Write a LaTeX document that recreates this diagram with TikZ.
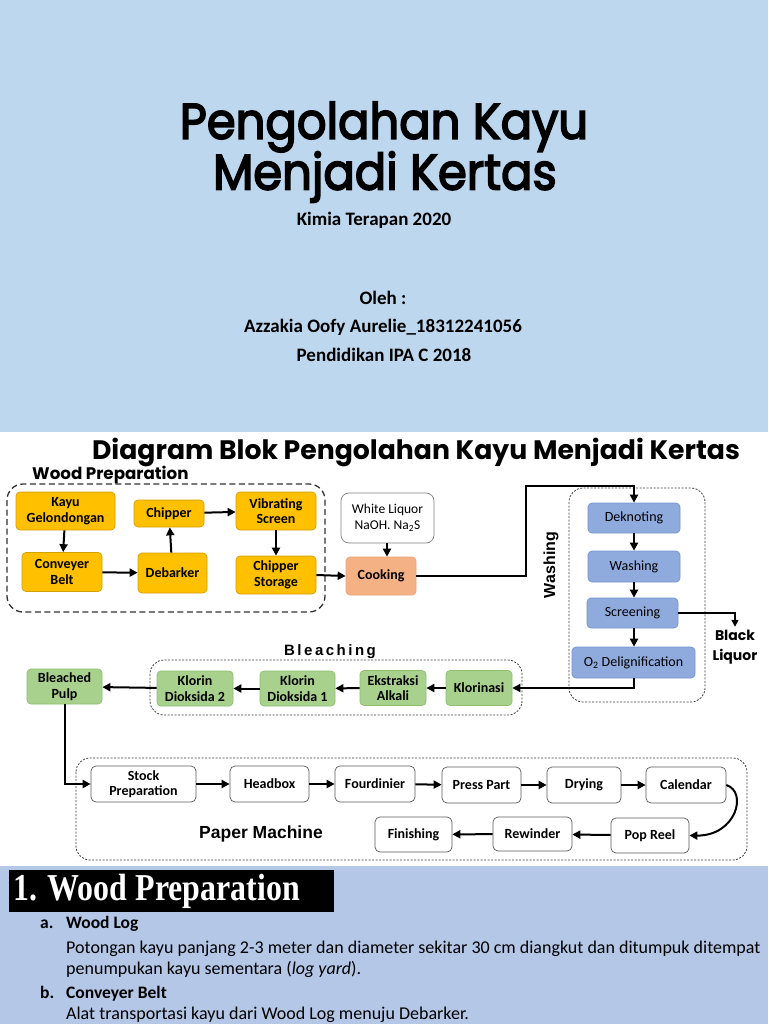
\documentclass[tikz,border=0pt]{standalone}
\usepackage{fontspec}
\setmainfont{Carlito}
\newfontfamily\geo{Poppins}
\newfontfamily\geom{Poppins}[FakeBold=3.5]
\newfontfamily\arl{Liberation Sans}
\newfontfamily\tms{Liberation Serif}
\usetikzlibrary{arrows.meta}
\definecolor{topbg}{RGB}{189,215,238}
\definecolor{botbg}{RGB}{180,199,231}
\definecolor{yfill}{RGB}{255,192,0}
\definecolor{yedge}{RGB}{214,160,0}
\definecolor{sfill}{RGB}{244,177,131}
\definecolor{sedge}{RGB}{240,160,120}
\definecolor{bfill}{RGB}{143,170,220}
\definecolor{bedge}{RGB}{120,148,205}
\definecolor{gfill}{RGB}{169,209,142}
\definecolor{gedge}{RGB}{140,190,110}
\definecolor{pedge}{RGB}{90,90,90}
\tikzset{
  boxbase/.style={rounded corners=4pt, align=center, inner sep=0pt, line width=0.7pt,
    font=\fontsize{14}{15.5}\selectfont\bfseries},
  ybox/.style={boxbase, fill=yfill, draw=yedge},
  sbox/.style={boxbase, fill=sfill, draw=sedge},
  wbox/.style={boxbase, fill=white, draw=gray, rounded corners=8pt, font=\fontsize{13.5}{15.5}\selectfont},
  bbox/.style={boxbase, fill=bfill, draw=bedge, font=\fontsize{14}{15}\selectfont},
  gbox/.style={boxbase, fill=gfill, draw=gedge, font=\fontsize{14}{15.5}\selectfont\bfseries},
  pbox/.style={boxbase, fill=white, draw=pedge, rounded corners=5pt, font=\fontsize{14}{15.5}\selectfont\bfseries},
  arr/.style={-{Triangle[length=8pt,width=8pt]}, line width=2pt, black},
  thinarr/.style={-{Triangle[length=7pt,width=7pt]}, line width=1.5pt, black},
  groupA/.style={dash pattern=on 6pt off 3.5pt, line width=1.3pt, draw=black!80, rounded corners=16pt},
  groupB/.style={dash pattern=on 2pt off 1.5pt, line width=0.8pt, draw=black!75, rounded corners=14pt},
  lbl/.style={inner sep=0pt, anchor=center},
}
\begin{document}
\begin{tikzpicture}[x=1pt,y=-1pt]
\useasboundingbox (0,0) rectangle (768,1024);
\clip (0,0) rectangle (768,1024);
% backgrounds
\fill[topbg] (0,0) rectangle (768,432);
\fill[white] (0,432) rectangle (768,866);
\fill[botbg] (0,866) rectangle (768,1024);

% title slide
\node[lbl, font=\geom\fontsize{50}{50}\selectfont] (t1) at (384,127) {\scalebox{0.93}[1]{Pengolahan Kayu}};
\node[lbl, font=\geom\fontsize{50}{50}\selectfont] (t2) at (385,177) {\scalebox{0.93}[1]{Menjadi Kertas}};
\node[lbl, font=\bfseries\fontsize{19}{19}\selectfont] (t3) at (374,220) {Kimia Terapan 2020};
\node[lbl, font=\bfseries\fontsize{19}{19}\selectfont] (t4) at (383,298) {Oleh :};
\node[lbl, font=\bfseries\fontsize{19}{19}\selectfont] (t5) at (383,327) {Azzakia Oofy Aurelie\_18312241056};
\node[lbl, font=\bfseries\fontsize{19}{19}\selectfont] (t6) at (384,355) {Pendidikan IPA C 2018};

% diagram title
\node[lbl, font=\geo\bfseries\fontsize{26.7}{26.7}\selectfont] (dt) at (416,452) {Diagram Blok Pengolahan Kayu Menjadi Kertas};

% Wood preparation group
\node[lbl, anchor=west, font=\geo\bfseries\fontsize{16.7}{16.7}\selectfont] (wpl) at (32,475) {Wood Preparation};
\draw[groupA] (7,484) rectangle (325,612);
\node[ybox, minimum width=99pt, minimum height=38pt] (kayu) at (65.5,511) {Kayu\\Gelondongan};
\node[ybox, minimum width=80pt, minimum height=39pt] (conv) at (62,572) {Conveyer\\Belt};
\node[ybox, minimum width=70pt, minimum height=27pt] (chip) at (169,513.5) {Chipper};
\node[ybox, minimum width=69pt, minimum height=40pt] (deb) at (172.5,573) {Debarker};
\node[ybox, minimum width=80pt, minimum height=38pt] (vib) at (276,511) {Vibrating\\Screen};
\node[ybox, minimum width=80pt, minimum height=38pt] (cst) at (276,575) {Chipper\\Storage};
\draw[arr] (kayu) -- (conv);
\draw[arr] (conv) -- (deb);
\draw[arr] (deb) -- (chip);
\draw[arr] (chip) -- (vib);
\draw[arr] (vib) -- (cst);

% cooking
\node[wbox, minimum width=93pt, minimum height=50pt] (wl) at (387.5,518) {White Liquor\\NaOH. Na\textsubscript{2}S};
\node[sbox, minimum width=70pt, minimum height=38pt] (cook) at (381,576) {Cooking};
\draw[arr] (cst.east) -- (cook.west);
\draw[arr] (wl.south -| cook.north) ++(6,0) coordinate (wlb) (wlb) -- (wlb |- cook.north);

% washing group
\draw[groupB] (569,488) rectangle (705,702);
\node[lbl, rotate=90, font=\arl\bfseries\fontsize{16}{16}\selectfont] (wash) at (551,565) {Washing};
\node[bbox, minimum width=92pt, minimum height=30pt] (dek) at (634,518) {Deknoting};
\node[bbox, minimum width=92pt, minimum height=31pt] (was) at (634,566.5) {Washing};
\node[bbox, minimum width=91pt, minimum height=30pt] (scr) at (632.5,613) {Screening};
\node[bbox, minimum width=123pt, minimum height=31pt] (o2) at (633.5,662.5) {O\textsubscript{2} Delignification};
\coordinate (c1) at (526,486);
\draw[arr] (cook.east) -| (c1) -| (dek.north);
\draw[arr] (dek) -- (was);
\draw[arr] (was.south -| dek.south) -- (scr.north -| dek.south);
\draw[arr] (scr.south -| dek.south) -- (o2.north -| dek.south);
\node[lbl, align=center, font=\geo\bfseries\fontsize{14}{20}\selectfont] (bl) at (735,647) {Black\\Liquor};
\draw[thinarr] (scr.east) -| ([yshift=3pt]bl.north);

% bleaching group
\node[lbl, font=\arl\bfseries\fontsize{15}{15}\selectfont] (bll) at (330,652) {B\,l\,e\,a\,c\,h\,i\,n\,g};
\draw[groupB] (150,660) rectangle (522,715);
\node[gbox, minimum width=66pt, minimum height=35pt] (klo) at (479,688) {Klorinasi};
\node[gbox, minimum width=66pt, minimum height=35pt] (eks) at (393,688) {Ekstraksi\\Alkali};
\node[gbox, minimum width=75pt, minimum height=35pt] (kd1) at (297.5,688.5) {Klorin\\Dioksida 1};
\node[gbox, minimum width=76pt, minimum height=35pt] (kd2) at (195,688.5) {Klorin\\Dioksida 2};
\node[gbox, minimum width=75pt, minimum height=35pt] (bp) at (64.5,686.5) {Bleached\\Pulp};
\draw[arr] (o2.south -| dek.south) |- (klo.east);
\draw[arr] (klo) -- (eks);
\draw[arr] (eks) -- (kd1);
\draw[arr] (kd1) -- (kd2);
\draw[arr] (kd2) -- (bp);

% paper machine group
\draw[groupB] (76,758) rectangle (747,860);
\node[pbox, minimum width=105pt, minimum height=36pt] (sp) at (143.5,784) {Stock\\Preparation};
\node[pbox, minimum width=79pt, minimum height=36pt] (hb) at (269.5,784) {Headbox};
\node[pbox, minimum width=80pt, minimum height=36pt] (fd) at (375,784) {Fourdinier};
\node[pbox, minimum width=79pt, minimum height=36pt] (pp) at (481.5,785) {Press Part};
\node[pbox, minimum width=74pt, minimum height=36pt] (dr) at (584,785) {Drying};
\node[pbox, minimum width=80pt, minimum height=36pt] (cal) at (686,785) {Calendar};
\node[pbox, minimum width=78pt, minimum height=35pt] (pop) at (650,835.5) {Pop Reel};
\node[pbox, minimum width=79pt, minimum height=34pt] (rew) at (532.5,834) {Rewinder};
\node[pbox, minimum width=77pt, minimum height=35pt] (fin) at (413.5,834.5) {Finishing};
\node[lbl, font=\arl\bfseries\fontsize{17.5}{17.5}\selectfont] (pm) at (261,834) {Paper Machine};
\draw[arr] (bp.south) |- (sp.west);
\draw[arr] (sp) -- (hb);
\draw[arr] (hb) -- (fd);
\draw[arr] (fd) -- (pp);
\draw[arr] (pp) -- (dr);
\draw[arr] (dr) -- (cal);
\draw[arr] (cal.east) .. controls (748,792) and (736,836) .. (pop.east);
\draw[arr] (pop) -- (rew);
\draw[arr] (rew) -- (fin);

% lower slide
\node[fill=black, minimum width=325pt, minimum height=42pt, inner sep=0pt, anchor=north west] (hdr) at (9,870) {};
\node[lbl, anchor=west, text=white, font=\tms\bfseries\fontsize{38}{38}\selectfont] (hdrt) at (13,891) {\scalebox{0.84}[1]{1. Wood Preparation}};
\node[lbl, anchor=base west, font=\bfseries\fontsize{17.5}{17.5}\selectfont] (la) at (40,928) {a.};
\node[lbl, anchor=base west, font=\bfseries\fontsize{17.5}{17.5}\selectfont] (lat) at (66,928) {Wood Log};
\node[lbl, anchor=base west, font=\fontsize{18}{18}\selectfont] (p1) at (66,953) {Potongan kayu panjang 2-3 meter dan diameter sekitar 30 cm diangkut dan ditumpuk ditempat};
\node[lbl, anchor=base west, font=\fontsize{18}{18}\selectfont] (p2) at (66,974) {penumpukan kayu sementara (\textit{log yard}).};
\node[lbl, anchor=base west, font=\bfseries\fontsize{17.5}{17.5}\selectfont] (lb) at (40,998) {b.};
\node[lbl, anchor=base west, font=\bfseries\fontsize{17.5}{17.5}\selectfont] (lbt) at (66,998) {Conveyer Belt};
\node[lbl, anchor=base west, font=\fontsize{18}{18}\selectfont] (p3) at (66,1019.5) {Alat transportasi kayu dari Wood Log menuju Debarker.};
\end{tikzpicture}
\end{document}
